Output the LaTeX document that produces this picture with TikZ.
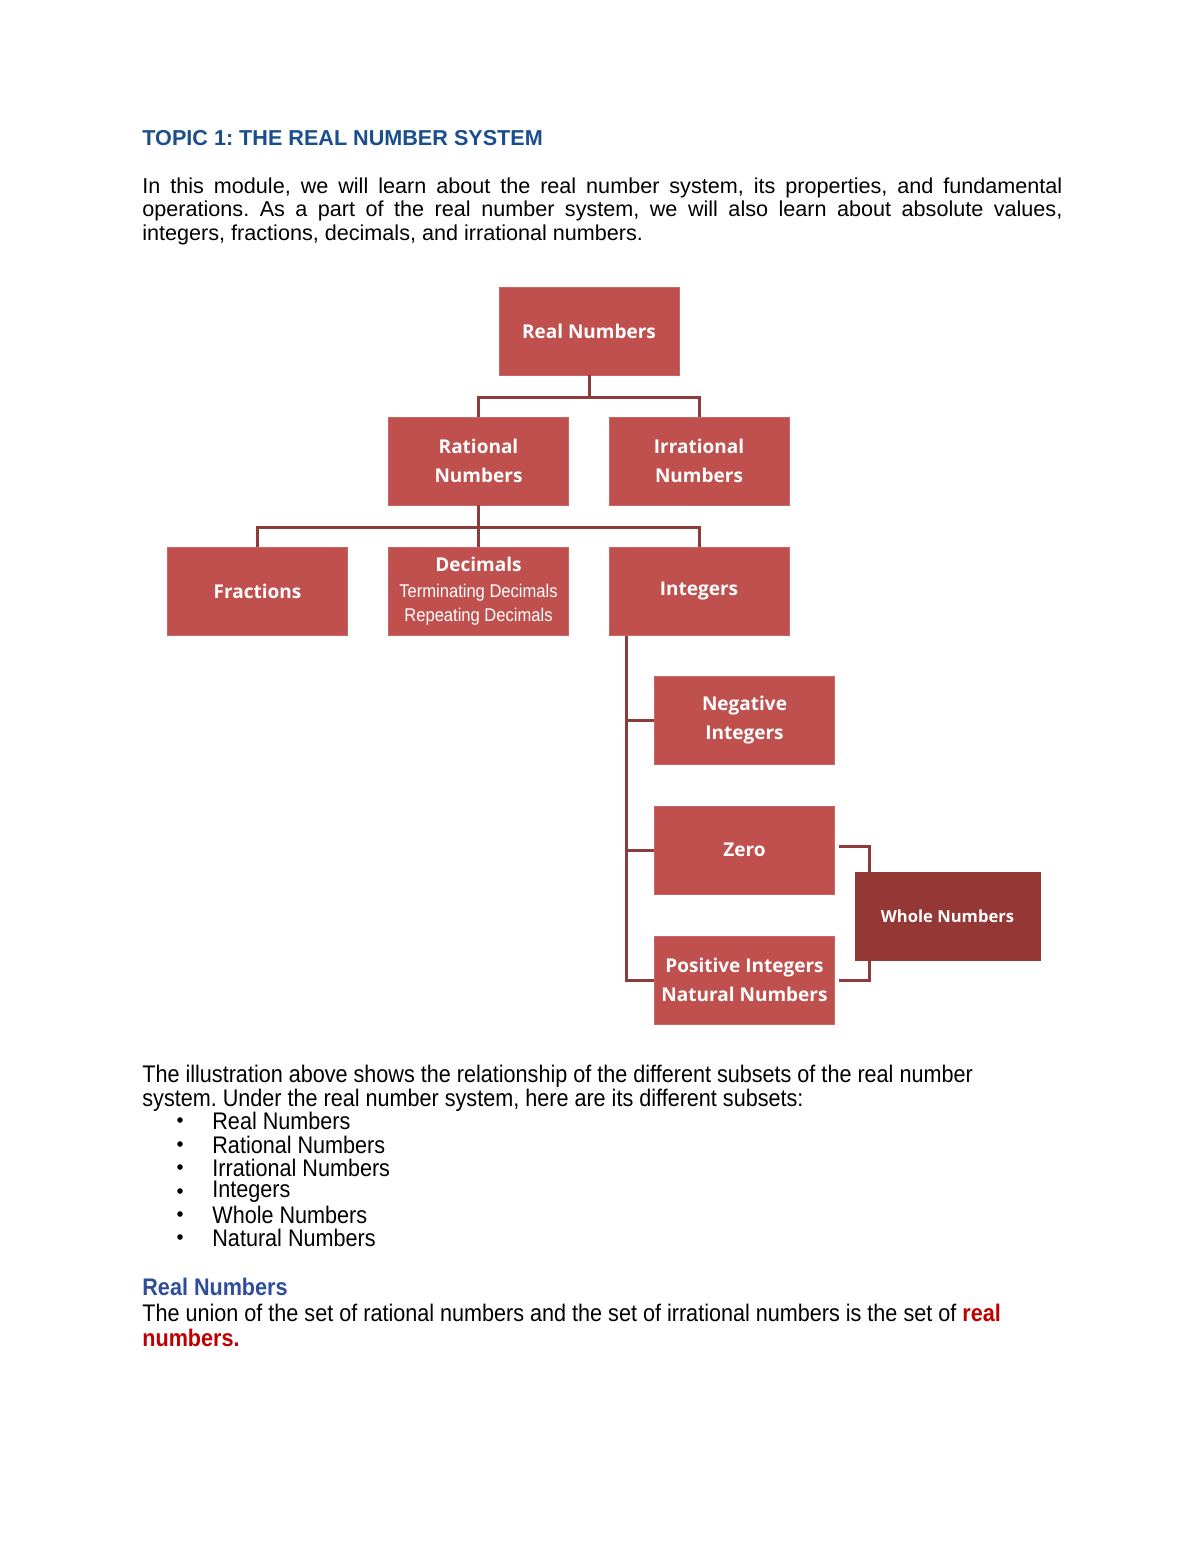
\documentclass[tikz,border=0pt]{standalone}
\usepackage{fontspec}
\newfontfamily\bodyfont{Liberation Sans}[FakeStretch=0.9]
\newfontfamily\plainfont{Liberation Sans}
\newfontfamily\boxfont{Open Sans}
\definecolor{boxred}{HTML}{C0504D}
\definecolor{boxedge}{HTML}{C96563}
\definecolor{wholered}{HTML}{953735}
\definecolor{linered}{HTML}{8E3B3B}
\definecolor{headblue}{HTML}{1A4F8B}
\definecolor{subblue}{HTML}{2E4E9C}
\definecolor{textred}{HTML}{C00000}
\frenchspacing
\begin{document}
\begin{tikzpicture}[x=0.5pt,y=-0.5pt,
  box/.style={rectangle,fill=boxred,draw=boxedge,line width=0.4pt,minimum width=90pt,minimum height=44pt,inner sep=0pt,align=center,text=white,font=\frenchspacing\boxfont\bfseries\fontsize{9.5}{14.5}\selectfont},
  wholebox/.style={box,fill=wholered,draw=wholered,minimum width=92.5pt,font=\boxfont\bfseries\fontsize{8.3}{12}\selectfont},
  link/.style={draw=linered,line width=1.5pt},
  txt/.style={anchor=west,inner sep=0pt,font=\frenchspacing\plainfont\fontsize{10.8}{13}\selectfont},
  btxt/.style={anchor=west,inner sep=0pt,font=\frenchspacing\bodyfont\fontsize{12}{14}\selectfont},
  bullet/.style={circle,fill=black,inner sep=0pt,minimum size=2.8pt}]
\useasboundingbox[fill=white] (0,0) rectangle (1200,1553);

% heading and intro
\node[txt,font=\plainfont\bfseries\fontsize{10.8}{13}\selectfont,text=headblue] (title) at (142,138) {TOPIC 1: THE REAL NUMBER SYSTEM};
\node[txt] (p1) at (142,188) {\hbox to 460pt{In this module, we will learn about the real number system, its properties, and fundamental}};
\node[txt] (p2) at (142,211) {\hbox to 460pt{operations. As a part of the real number system, we will also learn about absolute values,}};
\node[txt] (p3) at (142,235) {integers, fractions, decimals, and irrational numbers.};

% boxes
\node[box] (real) at (589,331) {Real Numbers};
\node[box] (rat) at (478.5,461) {Rational\\Numbers};
\node[box] (irr) at (699,461) {Irrational\\Numbers};
\node[box] (frac) at (257.5,591) {Fractions};
\node[box] (dec) at (478.5,591) {Decimals\\[-1.5pt]{\bodyfont\mdseries\fontsize{9.2}{12}\selectfont Terminating Decimals}\\[-2.5pt]{\bodyfont\mdseries\fontsize{9.2}{12}\selectfont Repeating Decimals}};
\node[box] (intg) at (699,591) {Integers};
\node[box] (neg) at (744.5,720) {Negative\\Integers};
\node[box] (zero) at (744.5,850) {Zero};
\node[box] (pos) at (744.5,980) {Positive Integers\\Natural Numbers};
\node[wholebox] (whole) at (947.5,916) {Whole Numbers};

% connectors
\coordinate (j1) at (589,397);
\coordinate (j2) at (478.5,527);
\coordinate (itop) at (626,636);
\draw[link] (real.south) -- (j1);
\draw[link] (rat.north) |- (j1) -| (irr.north);
\draw[link] (rat.south) -- (j2);
\draw[link] (frac.north) |- (j2) -| (intg.north);
\draw[link] (j2) -- (dec.north);
\draw[link] (itop) |- (pos.west);
\draw[link] (neg.west) -- (neg.west -| itop);
\draw[link] (zero.west) -- (zero.west -| itop);
\draw[link] ([xshift=2pt,yshift=2pt]zero.east) -| ([xshift=7.5pt]whole.north west);
\draw[link] ([xshift=2pt]pos.east) -| ([xshift=7.5pt]whole.south west);

% lower text
\node[btxt] (q1) at (142,1076) {The illustration above shows the relationship of the different subsets of the real number};
\node[btxt] (q2) at (142,1100) {system. Under the real number system, here are its different subsets:};
\foreach \yy/\tt [count=\i] in {1121/Real Numbers,1145/Rational Numbers,1168/Irrational Numbers,1192/Integers,1215/Whole Numbers,1238/Natural Numbers}{
  \node[bullet] (bul\i) at (180,\yy-1) {};
  \node[btxt] (item\i) at (212,\yy) {\tt};
}
\node[btxt,font=\bodyfont\bfseries\fontsize{12}{14}\selectfont,text=subblue] (sub) at (142,1287) {Real Numbers};
\node[btxt] (r1) at (142,1313) {The union of the set of rational numbers and the set of irrational numbers is the set of \textcolor{textred}{\bfseries real}};
\node[btxt,font=\bodyfont\bfseries\fontsize{12}{14}\selectfont,text=textred] (r2) at (142,1338) {numbers.};
\end{tikzpicture}
\end{document}
